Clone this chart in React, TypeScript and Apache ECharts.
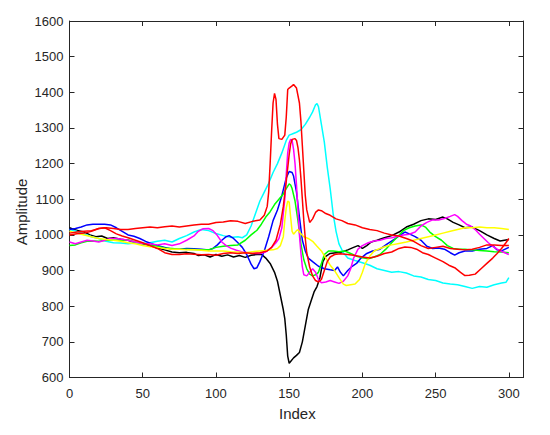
import React, { useEffect, useRef } from "react";
import * as echarts from "echarts";

const xTicks = [0, 50, 100, 150, 200, 250, 300];
const yTicks = [600, 700, 800, 900, 1000, 1100, 1200, 1300, 1400, 1500, 1600];

const blackSeries: number[][] = [[0,1020],[3,1015],[6,1012],[10,1008],[14,1000],[18,995],[22,997],[26,990],[30,992],[35,988],[40,985],[45,978],[50,975],[55,970],[60,963],[65,958],[70,952],[75,950],[80,951],[85,948],[88,942],[92,944],[96,938],[100,945],[104,940],[108,944],[112,938],[116,942],[120,937],[124,943],[128,945],[131,946],[134,935],[137,920],[140,895],[142,870],[144,830],[146,790],[147,765],[148,720],[149,660],[150,640],[151,645],[153,655],[155,662],[157,670],[159,700],[161,745],[163,790],[165,815],[167,840],[169,855],[171,880],[173,925],[175,940],[178,948],[182,950],[186,952],[190,958],[194,965],[197,970],[200,962],[203,970],[206,980],[210,985],[215,992],[220,998],[225,1008],[230,1022],[235,1030],[240,1040],[245,1045],[250,1043],[255,1050],[258,1045],[262,1035],[266,1028],[270,1020],[275,1022],[280,1012],[285,1000],[290,990],[294,983],[297,985],[300,987]];

const cyanSeries: number[][] = [[0,1015],[5,1010],[10,1003],[15,995],[20,990],[25,982],[30,978],[35,977],[40,975],[45,977],[50,976],[55,978],[60,982],[65,985],[70,980],[75,990],[80,998],[85,1008],[90,1015],[95,1012],[100,1004],[105,998],[110,993],[115,995],[118,992],[121,1000],[124,1025],[127,1060],[130,1095],[133,1120],[136,1145],[139,1175],[142,1200],[145,1230],[148,1265],[150,1280],[152,1283],[155,1288],[158,1295],[161,1310],[164,1330],[166,1345],[168,1365],[169,1368],[170,1360],[172,1310],[174,1260],[176,1190],[178,1130],[180,1060],[182,1010],[184,975],[187,950],[190,935],[195,928],[200,922],[205,915],[210,905],[215,900],[220,895],[225,897],[230,893],[235,885],[240,882],[245,875],[250,872],[255,865],[260,862],[265,860],[270,855],[275,850],[280,855],[285,853],[290,860],[295,865],[298,867],[300,880]];

const blueSeries: number[][] = [[0,1015],[4,1018],[8,1022],[12,1028],[16,1030],[20,1030],[24,1030],[28,1028],[32,1020],[36,1010],[40,1000],[44,996],[48,990],[52,982],[56,975],[60,970],[65,965],[70,960],[75,960],[80,962],[85,961],[90,960],[95,958],[98,962],[101,972],[104,985],[107,995],[109,998],[112,990],[115,978],[118,965],[121,945],[124,918],[126,905],[128,908],[130,925],[133,955],[136,995],[139,1040],[142,1070],[145,1110],[148,1160],[150,1178],[152,1175],[153,1165],[155,1120],[157,1050],[159,985],[161,955],[163,935],[166,925],[170,912],[174,905],[178,902],[181,900],[183,910],[185,895],[187,885],[190,900],[193,912],[196,920],[199,935],[203,948],[207,955],[212,960],[217,975],[222,988],[226,1000],[229,1008],[232,1003],[236,995],[240,985],[244,968],[248,962],[252,963],[256,960],[260,950],[263,943],[266,950],[270,955],[275,955],[280,960],[285,962],[289,970],[292,958],[295,955],[300,965]];

const greenSeries: number[][] = [[0,970],[4,972],[8,978],[12,982],[16,983],[20,982],[25,985],[30,986],[35,985],[40,986],[45,980],[50,976],[55,972],[60,968],[65,963],[70,962],[75,960],[80,960],[85,959],[90,958],[95,958],[100,965],[105,968],[110,970],[115,972],[120,985],[124,1000],[128,1013],[131,1030],[134,1050],[137,1065],[140,1085],[143,1100],[146,1115],[148,1130],[150,1143],[151,1140],[152,1130],[154,1095],[156,1040],[158,975],[160,930],[162,905],[164,890],[166,885],[168,888],[170,895],[172,920],[174,945],[177,955],[180,955],[184,953],[188,955],[192,948],[196,940],[200,936],[204,933],[208,938],[212,945],[216,960],[220,978],[224,995],[228,1012],[232,1020],[236,1025],[240,1028],[243,1022],[246,1008],[250,995],[254,985],[258,970],[262,962],[266,960],[270,960],[275,958],[280,956],[285,955],[290,953],[295,952],[300,950]];

const magentaSeries: number[][] = [[0,980],[4,975],[8,980],[12,985],[16,983],[20,980],[24,985],[28,990],[32,990],[36,988],[40,985],[45,980],[50,976],[55,975],[60,972],[65,975],[70,970],[75,975],[80,985],[85,997],[88,1010],[91,1017],[95,1018],[98,1012],[101,998],[104,980],[107,970],[110,963],[114,957],[118,952],[122,950],[126,948],[130,948],[134,952],[138,965],[141,978],[143,990],[145,1020],[147,1100],[148,1170],[149,1230],[150,1258],[151,1268],[152,1265],[153,1240],[154,1200],[155,1140],[156,1070],[157,1000],[158,950],[159,910],[160,888],[162,885],[164,895],[166,905],[168,895],[170,875],[172,866],[175,868],[178,872],[181,868],[184,864],[187,870],[190,885],[192,905],[194,935],[197,960],[200,970],[204,978],[208,983],[212,985],[216,990],[220,992],[224,996],[228,1000],[232,1002],[236,1008],[240,1025],[244,1035],[248,1042],[252,1042],[256,1046],[260,1052],[263,1057],[265,1052],[268,1040],[271,1030],[274,1025],[277,1015],[280,1002],[283,990],[286,978],[289,968],[292,960],[296,952],[300,945]];

const yellowSeries: number[][] = [[0,1010],[5,1005],[10,1000],[15,995],[20,990],[25,987],[30,985],[35,982],[40,978],[45,975],[50,970],[55,967],[60,965],[65,962],[70,960],[75,960],[80,958],[85,958],[90,957],[95,955],[100,955],[105,955],[110,953],[115,952],[120,950],[125,953],[130,955],[135,957],[139,958],[142,962],[144,970],[146,995],[147,1040],[148,1075],[149,1095],[150,1092],[151,1050],[152,1010],[153,1002],[155,1012],[156,1015],[158,1003],[160,995],[163,990],[166,982],[169,968],[172,955],[175,935],[178,915],[181,900],[184,880],[187,862],[189,858],[192,860],[195,862],[198,875],[200,895],[202,920],[205,940],[208,955],[212,962],[216,968],[220,972],[225,976],[230,980],[235,985],[240,990],[245,995],[250,1000],[255,1005],[260,1010],[265,1015],[270,1020],[275,1020],[280,1022],[285,1020],[290,1020],[295,1018],[300,1015]];

const redBSeries: number[][] = [[0,1000],[5,1003],[10,1005],[15,1010],[20,1018],[24,1020],[28,1012],[32,1003],[36,997],[40,992],[45,985],[50,978],[55,970],[60,962],[65,950],[70,945],[75,945],[80,947],[85,946],[90,944],[95,945],[100,943],[105,948],[110,950],[115,948],[120,950],[125,948],[130,950],[135,955],[138,965],[141,985],[144,1030],[146,1080],[148,1150],[150,1225],[151,1255],[152,1268],[154,1270],[155,1265],[156,1245],[157,1210],[158,1160],[159,1100],[160,1040],[161,990],[162,950],[164,910],[166,885],[168,872],[170,868],[172,875],[174,900],[176,925],[178,938],[181,945],[185,947],[190,945],[195,942],[200,938],[205,935],[210,940],[215,948],[220,952],[225,962],[229,966],[233,965],[237,960],[241,950],[245,945],[250,935],[255,925],[259,915],[263,908],[267,895],[270,886],[273,887],[277,890],[281,905],[285,920],[289,935],[292,948],[295,962],[298,978],[300,990]];

const redASeries: number[][] = [[0,1005],[5,1008],[10,1010],[15,1012],[20,1018],[25,1020],[30,1018],[35,1015],[40,1015],[45,1018],[50,1020],[55,1022],[60,1020],[65,1023],[70,1025],[75,1022],[80,1025],[85,1028],[90,1030],[95,1030],[100,1035],[105,1036],[110,1040],[115,1038],[120,1032],[125,1038],[130,1042],[133,1055],[135,1080],[136,1120],[137,1200],[138,1290],[139,1370],[140,1397],[141,1380],[142,1310],[143,1270],[145,1268],[147,1280],[148,1330],[149,1408],[150,1412],[152,1418],[153,1422],[155,1412],[157,1370],[158,1320],[159,1250],[160,1180],[161,1110],[162,1070],[164,1035],[166,1045],[168,1063],[170,1070],[172,1068],[175,1060],[178,1055],[182,1045],[186,1040],[190,1032],[195,1028],[200,1020],[205,1015],[210,1012],[215,1005],[220,1000],[225,997],[230,990],[235,982],[240,970],[245,962],[250,965],[255,968],[260,962],[265,960],[270,958],[275,960],[280,965],[285,972],[290,972],[295,970],[300,970]];

const seriesList = [
  { name: "black", color: "#000000", data: blackSeries },
  { name: "cyan", color: "#00ffff", data: cyanSeries },
  { name: "blue", color: "#0000ff", data: blueSeries },
  { name: "green", color: "#00ff00", data: greenSeries },
  { name: "magenta", color: "#ff00ff", data: magentaSeries },
  { name: "yellow", color: "#ffff00", data: yellowSeries },
  { name: "redB", color: "#ff0000", data: redBSeries },
  { name: "redA", color: "#ff0000", data: redASeries },
];

const FONT = "'Liberation Sans', Arial, Helvetica, sans-serif";
const AXIS_COLOR = "#262626";

export default function App() {
  const ref = useRef<HTMLDivElement>(null);
  useEffect(() => {
    if (!ref.current) return;
    const chart = echarts.init(ref.current, undefined, { renderer: "svg" });
    const left = 69.5, right = 26.5, top = 21, bottom = 57.5;
    const xLabelFmt = (v: number) => (xTicks.includes(v) ? String(v) : "");
    chart.setOption({
      animation: false,
      backgroundColor: "#ffffff",
      grid: { left, right, top, bottom },
      xAxis: [
        {
          type: "value", min: 0, max: 310, interval: 50,
          axisLine: { show: true, lineStyle: { color: AXIS_COLOR, width: 1 } },
          axisTick: { show: true, inside: true, length: 5, lineStyle: { color: AXIS_COLOR } },
          axisLabel: { formatter: xLabelFmt, color: AXIS_COLOR, fontSize: 13, fontFamily: FONT, margin: 9, showMaxLabel: false },
          splitLine: { show: false },
        },
        {
          type: "value", min: 0, max: 310, interval: 50, position: "top",
          axisLine: { show: true, onZero: false, lineStyle: { color: AXIS_COLOR, width: 1 } },
          axisTick: { show: true, inside: true, length: 5, lineStyle: { color: AXIS_COLOR } },
          axisLabel: { show: false },
          splitLine: { show: false },
        },
      ],
      yAxis: [
        {
          type: "value", min: 600, max: 1600, interval: 100,
          axisLine: { show: true, lineStyle: { color: AXIS_COLOR, width: 1 } },
          axisTick: { show: true, inside: true, length: 5, lineStyle: { color: AXIS_COLOR } },
          axisLabel: { color: AXIS_COLOR, fontSize: 13, fontFamily: FONT, margin: 6, formatter: (v: number) => (yTicks.includes(v) ? String(v) : "") },
          splitLine: { show: false },
        },
        {
          type: "value", min: 600, max: 1600, interval: 100, position: "right",
          axisLine: { show: true, onZero: false, lineStyle: { color: AXIS_COLOR, width: 1 } },
          axisTick: { show: true, inside: true, length: 5, lineStyle: { color: AXIS_COLOR } },
          axisLabel: { show: false },
          splitLine: { show: false },
        },
      ],
      graphic: [
        {
          type: "text", left: 279, top: 406,
          style: { text: "Index", fontSize: 15, fontFamily: FONT, fill: AXIS_COLOR },
        },
        {
          type: "text", x: 21, y: 212, rotation: Math.PI / 2,
          style: { text: "Amplitude", fontSize: 15, fontFamily: FONT, fill: AXIS_COLOR, align: "center", verticalAlign: "middle" },
        },
      ],
      series: seriesList.map((s) => ({
        type: "line",
        name: s.name,
        data: s.data,
        showSymbol: false,
        symbol: "none",
        smooth: false,
        lineStyle: { color: s.color, width: 1.5 },
        itemStyle: { color: s.color },
        xAxisIndex: 0,
        yAxisIndex: 0,
      })),
    });
    return () => chart.dispose();
  }, []);
  return <div ref={ref} style={{ position: "fixed", left: 0, top: 0, width: 550, height: 435 }} />;
}
